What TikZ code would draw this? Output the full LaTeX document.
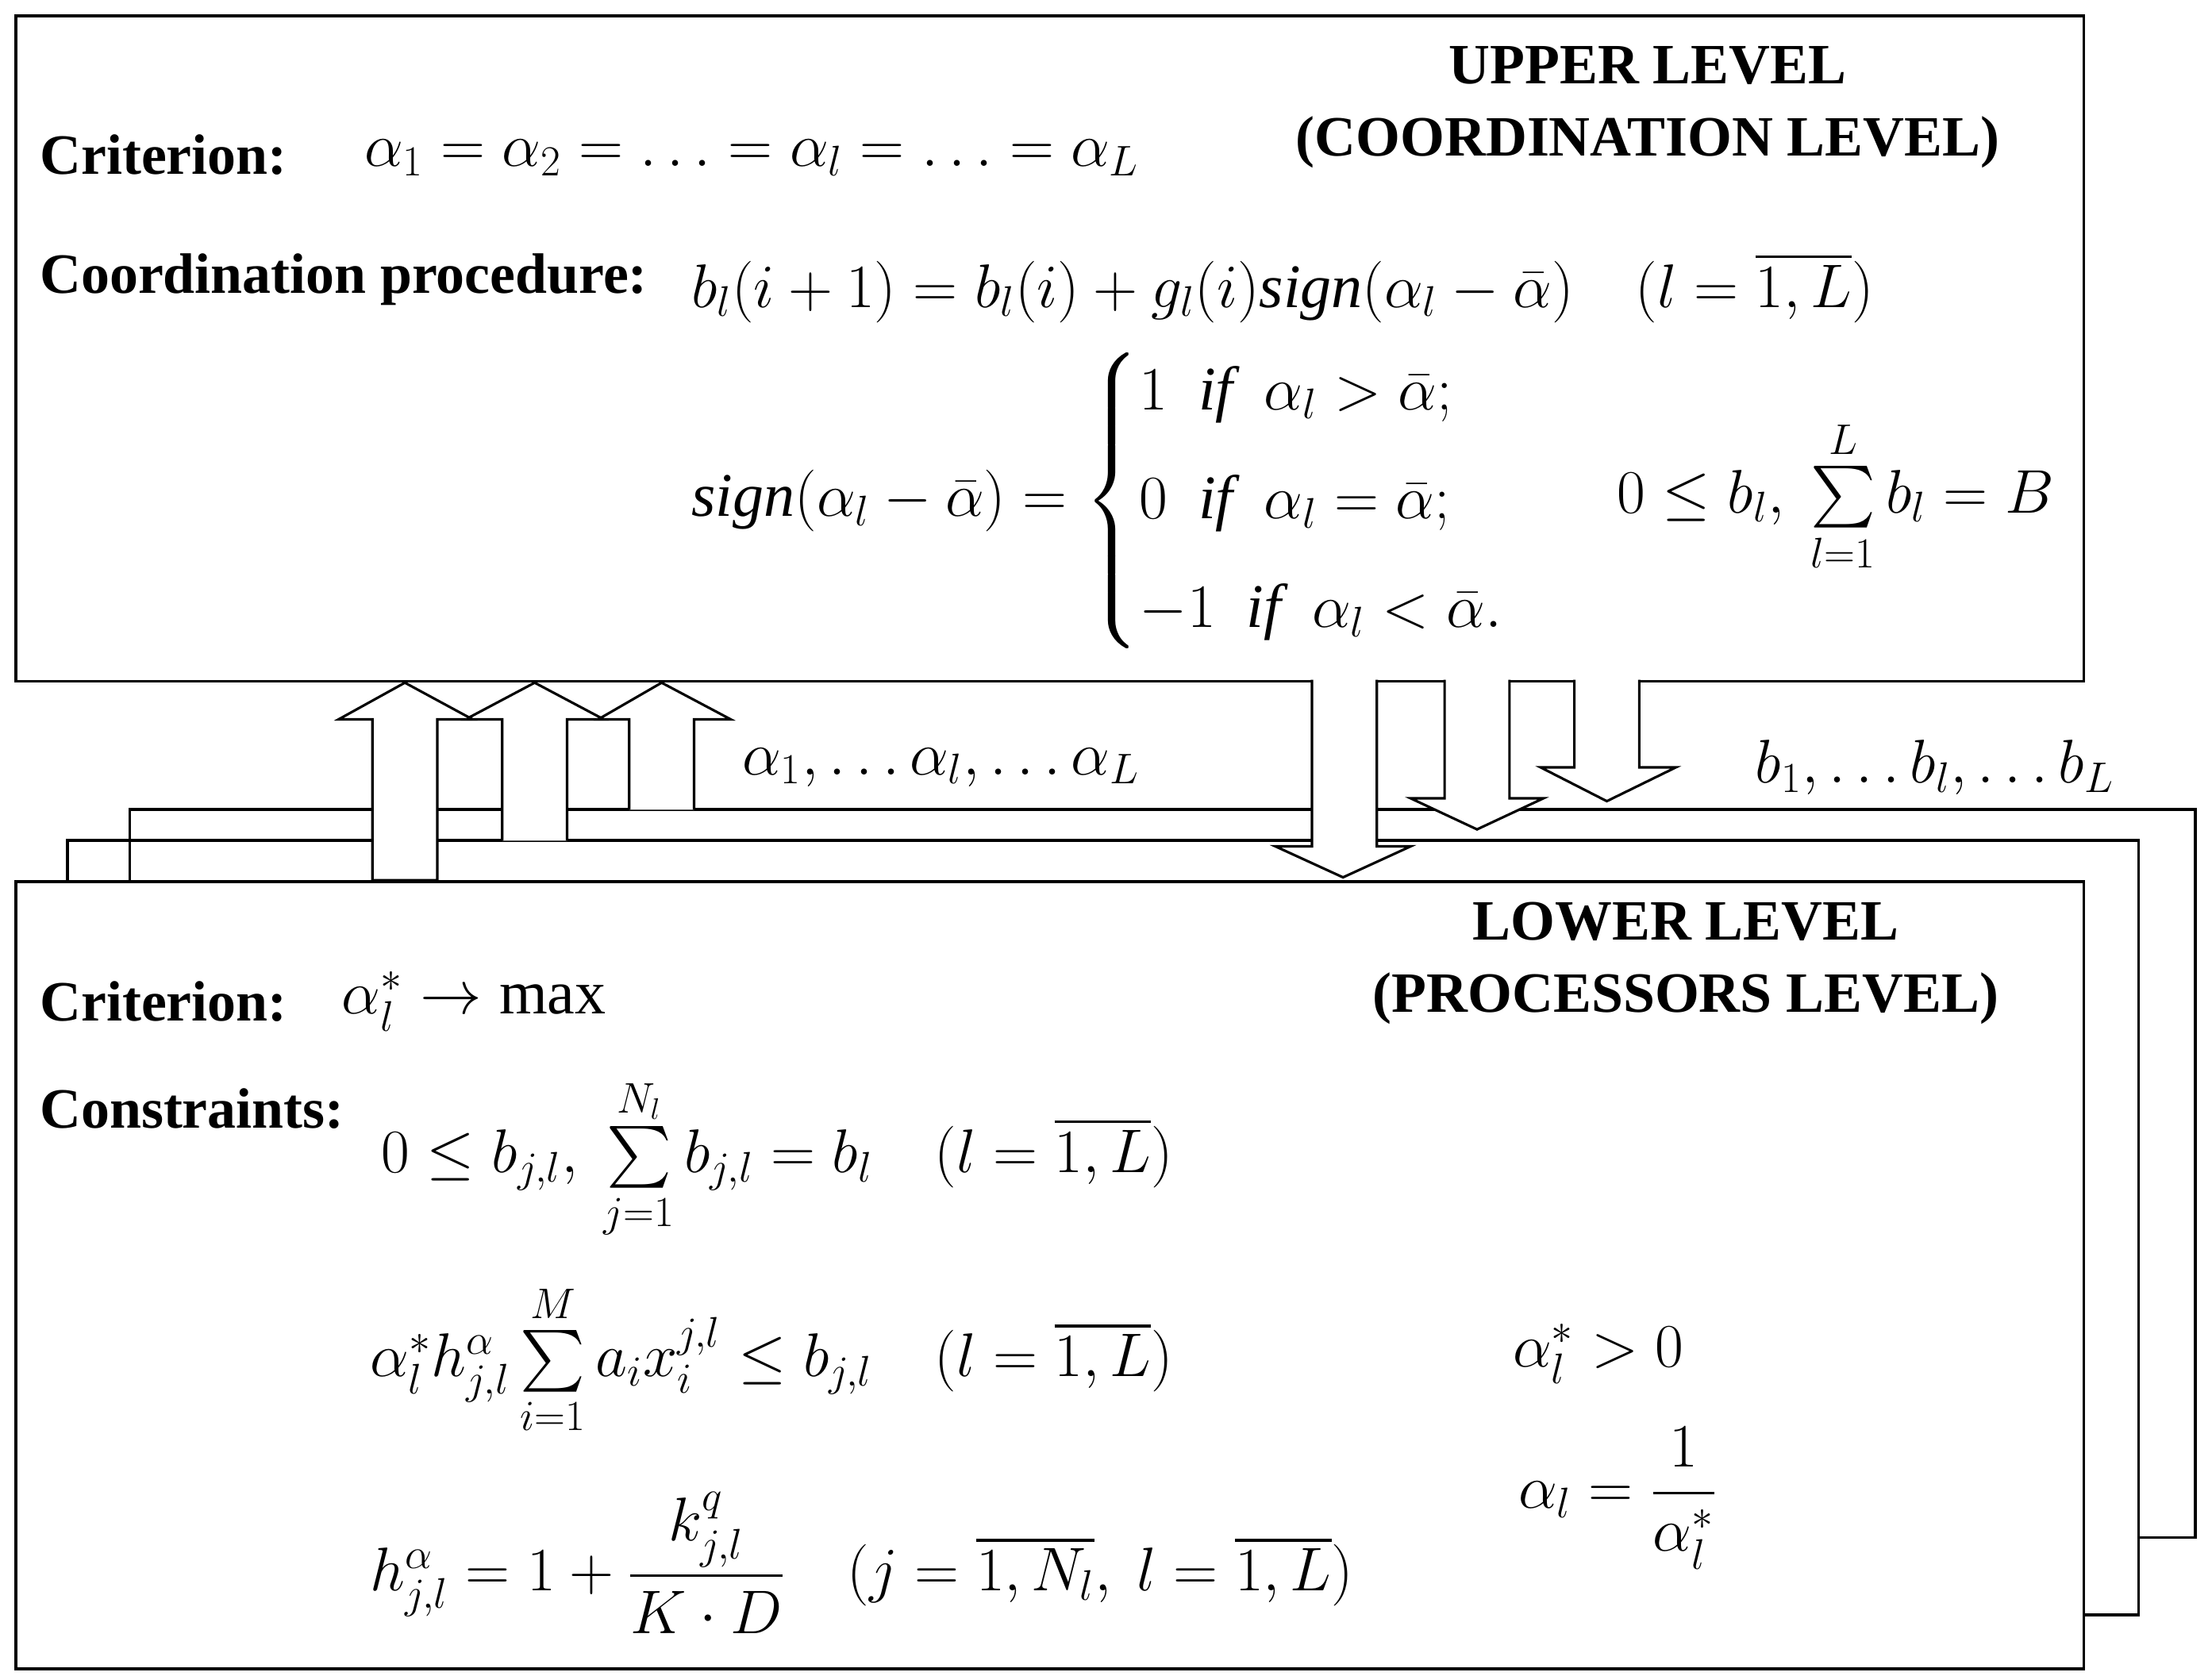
\documentclass[tikz,border=0pt]{standalone}
\usepackage{amsmath}
\usepackage{fontspec}
\setmainfont{Liberation Serif}
\begin{document}
\begin{tikzpicture}[x=0.02cm,y=-0.02cm,
  box/.style={draw,line width=1.2pt},
  blk/.style={draw,fill=white,line width=1pt},
  lbl/.style={anchor=west,inner sep=0pt,font=\fontsize{23}{29}\selectfont\bfseries},
  eq/.style={anchor=west,inner sep=0pt,font=\fontsize{25}{30}\selectfont}]
\useasboundingbox (0,0) rectangle (1568,1188);
% back frames
\draw[line width=1.2pt] (92,624) -- (92,574) -- (1556,574) -- (1556,1090) -- (1516,1090);
\draw[line width=1.2pt] (48,624) -- (48,596) -- (1516,596) -- (1516,1145) -- (1476,1145);
\node[box,minimum width=1466*0.02cm,minimum height=472*0.02cm,anchor=north west] (up) at (10,10) {};
\node[box,fill=white,minimum width=1466*0.02cm,minimum height=558*0.02cm,anchor=north west] (lo) at (10,624) {};
% up arrows
\draw[blk] (446,574) -- (446,510) -- (424,510) -- (469,484) -- (518,510) -- (492,510) -- (492,574);
\draw[blk] (356,596) -- (356,510) -- (330,510) -- (379,484) -- (428,510) -- (402,510) -- (402,596);
\draw[blk] (264,624) -- (264,510) -- (240,510) -- (287,484) -- (335,510) -- (310,510) -- (310,624) -- cycle;
% down arrows
\draw[blk] (1116,482) -- (1116,544) -- (1092,544) -- (1139,568) -- (1188,544) -- (1162,544) -- (1162,482);
\draw[blk] (1024,482) -- (1024,566) -- (1000,566) -- (1047,588) -- (1094,566) -- (1070,566) -- (1070,482);
\draw[blk] (930,482) -- (930,600) -- (904,600) -- (952,622) -- (1000,600) -- (976,600) -- (976,482);
% labels
\node[eq] (la) at (526,544) {$\alpha_1,\ldots\alpha_l,\ldots\alpha_L$};
\node[eq] (lb) at (1244,544) {$b_1,\ldots b_l,\ldots b_L$};
% upper
\node[lbl,anchor=center,align=center] (ut) at (1168,76) {UPPER LEVEL\\(COORDINATION LEVEL)};
\node[lbl] (c1) at (28,110) {Criterion:};
\node[eq] (e1) at (258,112) {$\alpha_1=\alpha_2=\ldots=\alpha_l=\ldots=\alpha_L$};
\node[lbl] (c2) at (28,198) {Coordination procedure:};
\node[eq] (e2) at (490,204) {$b_l(i+1)=b_l(i)+g_l(i)\mathit{sign}(\alpha_l-\bar\alpha)\quad(l=\overline{1,L})$};
\node[eq] (e3) at (490,355) {$\mathit{sign}(\alpha_l-\bar\alpha)=\begin{cases}1\ \ \mathit{if}\ \ \alpha_l>\bar\alpha;\\[8pt]0\ \ \mathit{if}\ \ \alpha_l=\bar\alpha;\\[8pt]-1\ \ \mathit{if}\ \ \alpha_l<\bar\alpha.\end{cases}$};
\node[eq] (e4) at (1146,352) {$0\le b_l,\ \sum\limits_{l=1}^{L}b_l=B$};
% lower
\node[lbl,anchor=center,align=center] (lt) at (1195,683) {LOWER LEVEL\\(PROCESSORS LEVEL)};
\node[lbl] (c3) at (28,710) {Criterion:};
\node[eq] (e5) at (242,710) {$\alpha_l^*\to\max$};
\node[lbl] (c4) at (28,786) {Constraints:};
\node[eq] (e6) at (270,822) {$0\le b_{j,l},\ \sum\limits_{j=1}^{N_l}b_{j,l}=b_l\quad(l=\overline{1,L})$};
\node[eq] (e7) at (262,964) {$\alpha_l^*h_{j,l}^{\alpha}\sum\limits_{i=1}^{M}a_ix_i^{j,l}\le b_{j,l}\quad(l=\overline{1,L})$};
\node[eq] (e8) at (1072,960) {$\alpha_l^*>0$};
\node[eq] (e9) at (262,1108) {$h_{j,l}^{\alpha}=1+\dfrac{k_{j,l}^{q}}{K\cdot D}\quad(j=\overline{1,N_l},\ l=\overline{1,L})$};
\node[eq] (e10) at (1076,1062) {$\alpha_l=\dfrac{1}{\alpha_l^*}$};
\end{tikzpicture}
\end{document}
